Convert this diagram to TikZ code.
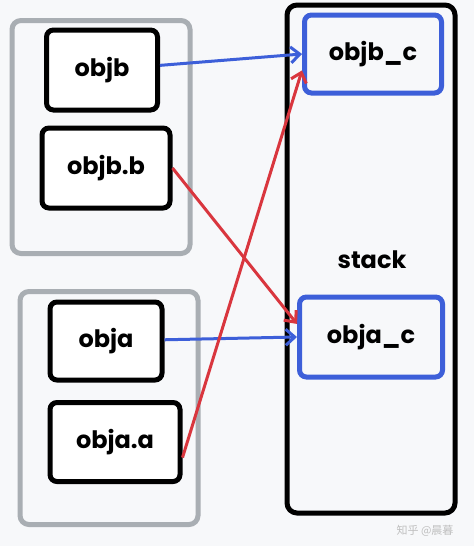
\documentclass[tikz,border=0pt]{standalone}
\usepackage{fontspec}
\setmainfont{Poppins}
\newfontfamily\cjk{Noto Sans CJK SC}
\usepackage{tikz}
\usetikzlibrary{arrows.meta,positioning}

\definecolor{bgpage}{HTML}{F7F8FA}
\definecolor{grp}{HTML}{A9AEB3}
\definecolor{ptr}{HTML}{3D5FD9}
\definecolor{mv}{HTML}{D9363E}

\begin{document}
\begin{tikzpicture}[
  x=1pt, y=-1pt,
  font=\fontsize{24}{28}\selectfont\bfseries,
  grpbox/.style={draw=grp, line width=5pt, rounded corners=9pt},
  n/.style={draw, line width=5pt, rounded corners=7pt, fill=white},
  c/.style={draw=ptr, line width=5pt, rounded corners=7pt},
  arr/.style={-{Straight Barb[length=9pt,width=16pt]}, line width=3pt}
]
\fill[bgpage] (0,0) rectangle (474,546);
\useasboundingbox (0,0) rectangle (474,546);
% groups and stack
\node[grpbox, minimum width=178pt, minimum height=233pt] (gb) at (101,137) {};
\node[grpbox, minimum width=178pt, minimum height=233pt] (ga) at (109,408) {};
\node[draw, line width=5pt, rounded corners=10pt, minimum width=168pt, minimum height=508pt] (stack) at (371,259) {};
\node (stackl) at (372,260) {stack};
% objects
\node[n, minimum width=111pt, minimum height=80pt] (objb) at (102,70) {objb};
\node[n, minimum width=128pt, minimum height=80pt] (objbb) at (106,168) {objb.b};
\node[n, minimum width=112pt, minimum height=78pt] (obja) at (106,341) {obja};
\node[n, minimum width=130pt, minimum height=79pt] (objaa) at (115,442) {obja.a};
\node[c, minimum width=137pt, minimum height=78pt] (objbc) at (373,54) {objb\_c};
\node[c, minimum width=143pt, minimum height=80pt] (objac) at (371,337) {obja\_c};
\node[font=\cjk\fontsize{11}{13}\selectfont, text=black!25] (wm) at (425,531) {知乎 @晨暮};
% links
\draw[arr, ptr] (objb) -- (objbc.west);
\draw[arr, mv] (objbb.east) -- (objac.170);
\draw[arr, ptr] (obja) -- (objac.west);
\draw[arr, mv] (objaa.-13) -- (objbc.193);
\end{tikzpicture}
\end{document}
